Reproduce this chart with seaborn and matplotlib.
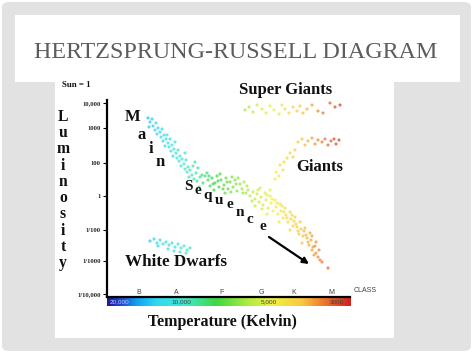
import matplotlib
matplotlib.use("Agg")
import matplotlib.pyplot as plt
import numpy as np
import pandas as pd
import seaborn as sns
from matplotlib.colors import LinearSegmentedColormap
from matplotlib.patches import FancyBboxPatch

# ---------------- data (chart units) ----------------
# x: position along the temperature scale (0 = hottest, 243 = coolest)
# y: position along the luminosity scale (0 = 1/10,000 Sun, 197 = top)
ms_x = [41, 43, 45, 42, 46, 49, 48, 51, 53, 50, 54, 57, 56, 59, 61, 58, 62, 65, 64, 67,
        69, 66, 70, 73, 72, 75, 77, 74, 78, 81, 80, 83, 85, 82, 87, 89, 60, 68, 78, 88, 91,
        55, 63, 71, 79, 86,
        90, 93, 96, 98, 101, 103, 105, 108, 110, 112, 114, 117, 119, 121, 123, 126, 128, 130,
        133, 135, 137, 100, 113, 125, 92, 107, 131, 139, 118,
        95, 106, 116, 124, 129, 136, 140, 120, 111, 102,
        141, 143, 146, 148, 150, 152, 154, 156, 158, 159, 161, 163, 164, 166, 168, 169, 171,
        173, 174, 176, 178, 179, 181, 183, 184, 186, 188, 189, 191, 193, 194, 196, 198, 199,
        201, 203, 204, 206, 163, 153, 172, 183, 195, 148, 160,
        145, 151, 155, 160, 165, 170, 175, 177, 180, 185, 187, 190, 192, 197, 200, 202, 205, 209,
        205, 208, 209, 211, 212, 213, 215, 207, 221]
ms_y = [179, 175, 178, 170, 171, 174, 167, 169, 165, 163, 160, 162, 156, 158, 154, 151, 150, 152, 146, 148,
        144, 141, 139, 141, 136, 138, 133, 131, 128, 130, 125, 127, 122, 120, 118, 124, 162, 155, 144, 135, 129,
        168, 158, 147, 137, 131,
        116, 120, 114, 121, 117, 111, 119, 114, 121, 110, 117, 112, 119, 108, 115, 110, 117, 106,
        113, 108, 115, 124, 123, 120, 110, 107, 119, 104, 104,
        122, 113, 108, 105, 113, 104, 111, 115, 116, 121,
        107, 101, 105, 98, 103, 95, 100, 92, 104, 97, 89, 101, 94, 86, 97, 90, 83,
        93, 86, 79, 89, 82, 75, 85, 78, 71, 80, 73, 66, 75, 68, 61, 69, 62,
        55, 64, 57, 50, 107, 109, 75, 67, 54, 91, 83,
        96, 107, 88, 102, 98, 94, 91, 85, 79, 82, 76, 70, 63, 66, 59, 52, 61, 55,
        47, 51, 44, 40, 47, 37, 35, 42, 29]

sg_x = [138, 142, 146, 150, 155, 159, 163, 167, 172, 175, 178, 182, 186, 190, 193, 196,
        200, 205, 211, 216, 223, 228, 233]
sg_y = [187, 190, 185, 192, 188, 184, 191, 187, 183, 192, 188, 184, 190, 186, 191, 184,
        188, 192, 186, 184, 194, 190, 192]

gi_x = [191, 195, 198, 201, 205, 208, 211, 215, 218, 221, 224, 227, 229, 232,
        188, 183, 186, 180, 177, 173, 176, 169, 172, 168]
gi_y = [155, 158, 152, 156, 159, 153, 157, 155, 158, 152, 156, 158, 153, 157,
        147, 144, 140, 139, 135, 132, 127, 125, 121, 118]

wd_x = [43, 47, 50, 53, 56, 59, 62, 65, 68, 71, 74, 77, 80, 67, 73, 61, 79, 51, 83]
wd_y = [56, 58, 54, 57, 53, 55, 52, 54, 50, 53, 49, 51, 47, 46, 45, 48, 44, 51, 49]

lum_ticks = [194, 169, 134, 101, 67, 36, 3]
lum_labels = ["10,000", "1000", "100", "1", "1/100", "1/1000", "1/10,000"]

class_pos = [32, 69, 115, 154, 187, 224]
class_labels = ["B", "A", "F", "G", "K", "M"]

temp_pos = [13, 74, 161, 229]
temp_labels = ["20,000", "10,000", "5,000", "3000"]

# ---------------- figure ----------------
W, H = 474, 355
sns.set_style("white")
plt.rcParams["font.family"] = ["Liberation Serif", "DejaVu Serif"]

fig = plt.figure(figsize=(W / 100, H / 100), dpi=100)
fig.patch.set_facecolor("white")


def fx(px):
    return px / W


def fy(py):
    return 1 - py / H


def box(x0, y0, x1, y1, color, rnd=0.0, z=0):
    p = FancyBboxPatch((fx(x0), fy(y1)), fx(x1) - fx(x0), fy(y0) - fy(y1),
                       boxstyle=f"round,pad=0,rounding_size={rnd}",
                       transform=fig.transFigure, facecolor=color,
                       edgecolor="none", zorder=z)
    fig.patches.append(p)


box(2, 2, 471, 351, "#e2e2e2", rnd=0.015, z=0)
box(15, 15, 460, 82, "white", z=1)
box(55, 78, 394, 338, "white", z=1)


def ptext(px, py, s, **kw):
    kw.setdefault("ha", "center")
    kw.setdefault("va", "center")
    fig.text(fx(px), fy(py), s, **kw)


ptext(236, 52, "HERTZSPRUNG-RUSSELL DIAGRAM", fontsize=17.3,
      color="#5c5c5c", family=["Liberation Serif"])

cmap = LinearSegmentedColormap.from_list("temp", [
    (0.00, "#1c1c8c"), (0.05, "#2040d0"), (0.12, "#10a0f0"), (0.20, "#30d8f0"),
    (0.32, "#40e8d0"), (0.45, "#40d840"), (0.58, "#b0ec40"), (0.68, "#f0f040"),
    (0.80, "#f8c840"), (0.88, "#f08030"), (1.00, "#d02020")])

ax = fig.add_axes([fx(107), fy(297), fx(350) - fx(107), fy(100) - fy(297)])
ax.set_facecolor("none")
ax.set_zorder(3)

df = pd.DataFrame({
    "temp": ms_x + sg_x + gi_x + wd_x,
    "lum": ms_y + sg_y + gi_y + wd_y,
})
sns.scatterplot(data=df, x="temp", y="lum", hue="temp", palette=cmap,
                hue_norm=(0, 243), s=5, linewidth=0, alpha=0.75,
                legend=False, ax=ax)

ax.set_xlim(0, 243)
ax.set_ylim(0, 197)
ax.set_xlabel("")
ax.set_ylabel("")
for side in ["top", "right"]:
    ax.spines[side].set_visible(False)
for side in ["left", "bottom"]:
    ax.spines[side].set_color("black")
    ax.spines[side].set_linewidth(1.6)
ax.set_xticks([])
ax.set_yticks(lum_ticks)
ax.set_yticklabels(lum_labels, fontsize=4.8, fontweight="bold",
                   family="Liberation Serif")
ax.tick_params(axis="y", length=3, width=0.8, pad=1.5, color="black",
               left=True)

for p, lab in zip(class_pos, class_labels):
    ax.text(p, 5, lab, fontsize=5, color="#404040", ha="center", va="center",
            family="Liberation Sans")
ptext(365, 291, "CLASS", fontsize=5, color="#404040", family="Liberation Sans")

ax.annotate("", xy=(202, 33), xytext=(162, 60),
            arrowprops=dict(arrowstyle="-|>", color="black", lw=1.6,
                            mutation_scale=9, shrinkA=0, shrinkB=0))

# colour bar of temperatures
cax = fig.add_axes([fx(107), fy(306), fx(351) - fx(107), fy(298) - fy(306)])
cax.imshow(np.linspace(0, 1, 256)[None, :], cmap=cmap, aspect="auto",
           extent=(0, 243, 0, 1))
cax.set_axis_off()
cax.set_zorder(2)
for p, lab in zip(temp_pos, temp_labels):
    cax.text(p, 0.5, lab, fontsize=4.6,
             color="#b8c8ff" if p < 30 else "#404040",
             ha="center", va="center", family="Liberation Sans")

bold = dict(fontweight="bold", color="#111111", family="Liberation Serif")

ptext(76, 85, "Sun = 1", fontsize=6.3, **bold)

# vertical axis title, one letter per line
ptext(63, 190, "\n".join("Luminosity"), fontsize=11.3, linespacing=1.02,
      multialignment="center", **bold)

for ch, (xx, yy) in zip("Main", [(133, 117), (142, 135), (151, 149), (160, 162)]):
    ptext(xx, yy, ch, fontsize=12, **bold)

seq_pos = [(188, 186), (198, 191), (208, 195), (219, 200), (230, 205),
           (240, 212), (250, 220), (263, 227)]
for ch, (xx, yy) in zip("Sequence", seq_pos):
    ptext(xx, yy, ch, fontsize=11, **bold)

ptext(286, 90, "Super Giants", fontsize=12, **bold)
ptext(320, 167, "Giants", fontsize=12, **bold)
ptext(176, 262, "White Dwarfs", fontsize=12.3, **bold)
ptext(222, 322, "Temperature (Kelvin)", fontsize=11.5, **bold)

fig.savefig("out.png", dpi=100, facecolor=fig.get_facecolor())
